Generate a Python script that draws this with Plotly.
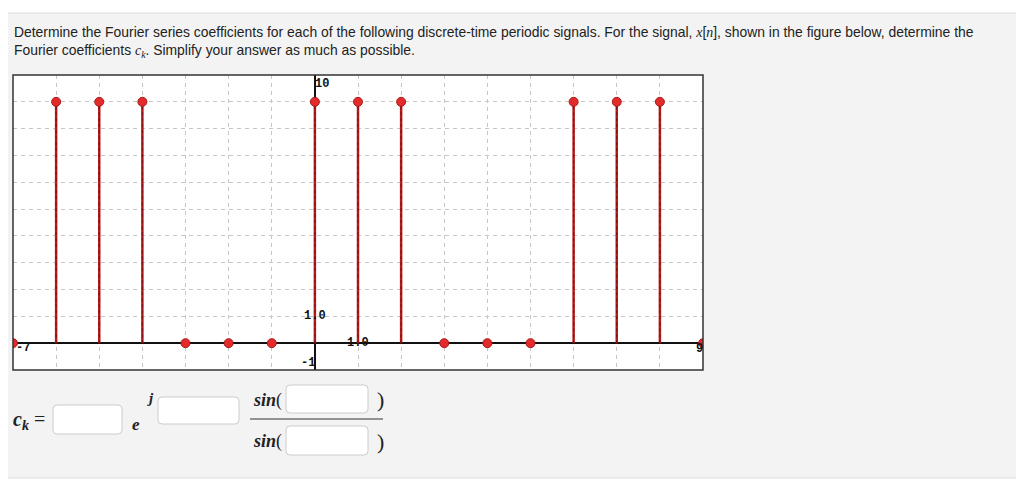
"""Stem plot of x[n] from a DT Fourier-series homework problem."""

import plotly.graph_objects as go

OFF = 8  # the page body adds an 8px margin, so draw everything shifted back by it
W, H = 1024 - OFF, 483 - OFF
PL, PR, PT, PB = 13, 703, 75, 370  # plot area in reference pixels

# signal samples
n = list(range(-7, 10))
x_n = [0, 10, 10, 10, 0, 0, 0, 10, 10, 10, 0, 0, 0, 10, 10, 10, 0]

x_range = [-7, 9]
y_range = [-10 / 9, 100 / 9]
y_step = 10 / 9

MATH = '<span style="font-family:Liberation Serif"><i>%s</i></span>'
question_1 = ("Determine the Fourier series coefficients for each of the following discrete-time "
              "periodic signals. For the signal, " + MATH % "x" + "[" + MATH % "n" + "], shown in "
              "the figure below, determine the")
question_2 = ("Fourier coefficients " + MATH % "c<sub>k</sub>"
              + ". Simplify your answer as much as possible.")

axis_labels = ["10", "1.0", "-1", "-7", "1.0", "9"]

STEM = "#b31b1b"
DOT = "#e42b2b"


def px(x):
    return (x - PL) / (PR - PL)


def py(y):
    return (PB - y) / (PB - PT)


def rect(x0, y0, x1, y1, fill=None, line="#cfcfcf", width=1, layer="above"):
    return dict(type="rect", xref="paper", yref="paper",
                x0=px(x0), x1=px(x1), y0=py(y1), y1=py(y0),
                fillcolor=fill or "rgba(0,0,0,0)",
                line=dict(color=line, width=width), layer=layer)


def box(x0, y0, x1, y1, r=4):
    """Rounded input box, as an svg path in paper units."""
    sx, sy = r / (PR - PL), r / (PB - PT)
    a, b, c, d = px(x0), px(x1), py(y1), py(y0)
    path = (f"M{a + sx},{c} L{b - sx},{c} Q{b},{c} {b},{c + sy} L{b},{d - sy} "
            f"Q{b},{d} {b - sx},{d} L{a + sx},{d} Q{a},{d} {a},{d - sy} "
            f"L{a},{c + sy} Q{a},{c} {a + sx},{c} Z")
    return dict(type="path", xref="paper", yref="paper", path=path,
                fillcolor="white", line=dict(color="#cccccc", width=1))


def text(x, y, s, size=14, family="Liberation Sans", color="#222", xanchor="left"):
    return dict(x=px(x), y=py(y), xref="paper", yref="paper", text=s, showarrow=False,
                xanchor=xanchor, yanchor="middle",
                font=dict(size=size, family=family, color=color))


def tick_label(x, y, s, xanchor, xshift=0):
    return dict(x=x, y=y, xref="x", yref="y", text="<b>%s</b>" % s, showarrow=False,
                xanchor=xanchor, yanchor="middle", xshift=xshift,
                font=dict(size=12, family="Liberation Mono", color="#111"))


# stems: one segment per nonzero sample
stem_x, stem_y = [], []
for k, v in zip(n, x_n):
    if v != 0:
        stem_x += [k, k, None]
        stem_y += [0, v, None]

fig = go.Figure()
fig.add_trace(go.Scatter(x=stem_x, y=stem_y, mode="lines",
                         line=dict(color=STEM, width=2.5), hoverinfo="skip"))
fig.add_trace(go.Scatter(x=stem_x, y=stem_y, mode="lines",
                         line=dict(color="#7a0c0c", width=1, dash="3px,3px"), hoverinfo="skip"))
fig.add_trace(go.Scatter(x=n, y=x_n, mode="markers",
                         marker=dict(size=9, color=DOT, line=dict(color="#a81a1a", width=1))))

grid = dict(showgrid=True, gridcolor="#c6c6c6", griddash="4px,4px", gridwidth=1,
            showticklabels=False, ticks="", zeroline=True, zerolinecolor="#111",
            zerolinewidth=1.5, showline=False, fixedrange=True)
fig.update_xaxes(range=x_range, dtick=1, tick0=0, **grid)
fig.update_yaxes(range=y_range, dtick=y_step, tick0=0, **grid)

shapes = [
    # white page around the grey panel
    rect(0, 0, 1024, 13, fill="white", line="white", width=0, layer="below"),
    rect(0, 0, 4, 483, fill="white", line="white", width=0, layer="below"),
    rect(1022, 0, 1024, 483, fill="white", line="white", width=0, layer="below"),
    rect(0, 478, 1024, 483, fill="white", line="white", width=0, layer="below"),
    rect(4, 13, 1022, 478, line="#dcdcdc"),
    # plot frame
    rect(PL, PT, PR, PB, line="#333", width=1.5),
    # answer boxes
    box(53, 405, 122, 434),
    box(158, 397, 239, 424),
    box(286, 385, 368, 413),
    box(286, 426, 368, 455),
    dict(type="line", xref="paper", yref="paper", x0=px(250), x1=px(383),
         y0=py(419), y1=py(419), line=dict(color="#333", width=1.2)),
]

serif = "Liberation Serif"
annotations = [
    text(12, 32, question_1, size=13.9),
    text(12, 51, question_2, size=13.9),
    # axis labels
    tick_label(0, 10.75, axis_labels[0], "left", -2),
    tick_label(0, y_step, axis_labels[1], "center"),
    tick_label(0, -0.82, axis_labels[2], "right", 2),
    tick_label(-7, -0.22, axis_labels[3], "left", 1),
    tick_label(1, 0, axis_labels[4], "center"),
    tick_label(9, -0.25, axis_labels[5], "right", 2),
    # answer formula
    text(11, 420, "<b><i>c<sub>k</sub></i></b> =", size=20, family=serif),
    text(130, 424, "<b><i>e</i></b>", size=17, family=serif),
    text(145, 398, "<b><i>j</i></b>", size=15, family=serif),
    text(251, 400, "<b><i>sin</i></b>(", size=18, family=serif),
    text(375, 399, ")", size=22, family=serif),
    text(251, 441, "<b><i>sin</i></b>(", size=18, family=serif),
    text(375, 441, ")", size=22, family=serif),
]

fig.update_layout(
    width=W, height=H, autosize=False,
    margin=dict(l=PL - OFF, r=W - (PR - OFF), t=PT - OFF, b=H - (PB - OFF), pad=0),
    paper_bgcolor="#f3f3f3", plot_bgcolor="white",
    showlegend=False, shapes=shapes, annotations=annotations,
)

fig.write_html("out.html")
